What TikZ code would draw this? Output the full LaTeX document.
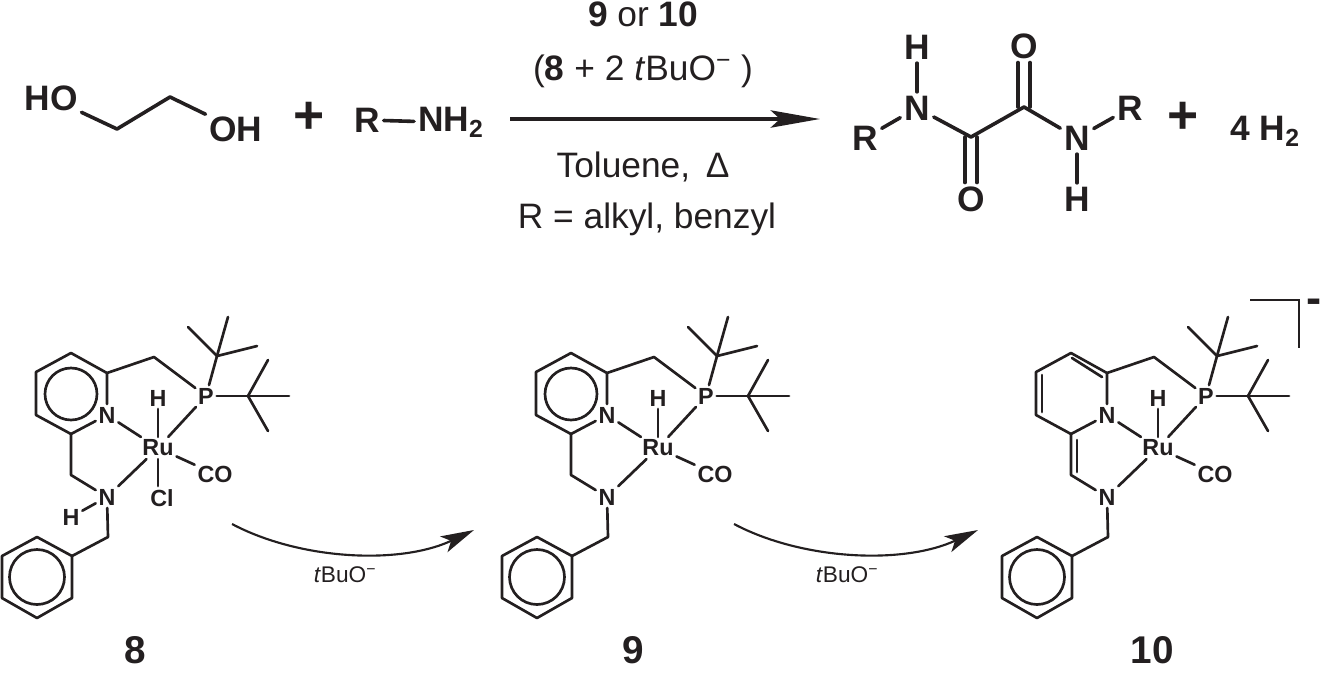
\documentclass[tikz,border=0pt]{standalone}
\usepackage{fontspec}
\setmainfont{Liberation Sans}
\usetikzlibrary{arrows.meta,calc}
\definecolor{ink}{HTML}{231F20}
\tikzset{
  x=0.75pt,y=-0.75pt,
  every node/.style={text=ink,inner sep=0pt,outer sep=0pt},
  big/.style={font=\fontsize{26.5}{28}\selectfont\bfseries,inner sep=3pt},
  small/.style={font=\fontsize{17.5}{18}\selectfont\bfseries,inner sep=2.2pt},
  cond/.style={font=\fontsize{26.5}{30}\selectfont},
  cmpd/.style={font=\fontsize{29}{30}\selectfont\bfseries},
  thick bond/.style={draw=ink,line width=2.7pt,line cap=round,line join=round},
  thin bond/.style={draw=ink,line width=2pt,line cap=round,line join=round},
  main arrow/.style={draw=ink,line width=2.6pt,-{Stealth[length=37pt,width=13pt,inset=7pt]}},
  curve arrow/.style={draw=ink,line width=1.6pt,-{Stealth[length=25pt,width=13pt,inset=6pt]}},
}
\newcommand{\cmplxcore}{%
  \coordinate (r1) at (71,353); \coordinate (r2) at (107,373);
  \coordinate (r4) at (71,434); \coordinate (r5) at (36,415); \coordinate (r6) at (36,372);
  \coordinate (ch) at (154,357); \coordinate (cb) at (71,475); \coordinate (cn) at (108,537);
  \coordinate (b1) at (37,537); \coordinate (b2) at (72,556); \coordinate (b3) at (72,598);
  \coordinate (b4) at (37,618); \coordinate (b5) at (2,598); \coordinate (b6) at (2,556);
  \coordinate (tc) at (217,356); \coordinate (ta) at (188,327); \coordinate (tb) at (228,317); \coordinate (td) at (257,346);
  \coordinate (uc) at (248,396); \coordinate (ua) at (268,360); \coordinate (ub) at (289,396); \coordinate (ud) at (268,431);
  \node[small] (N) at (107,415) {N};
  \node[small] (P) at (206,396) {P};
  \node[small] (Ru) at (158,448) {Ru};
  \node[small] (H) at (158,398) {H};
  \node[small] (CO) at (215,474) {CO};
  \node[small] (M) at (107,497) {N};
  \draw[thin bond] (N) -- (r2) -- (r1) -- (r6) -- (r5) -- (r4) -- (N);
  \draw[thin bond] (r2) -- (ch) -- (P);
  \draw[thin bond] (P) -- (Ru);
  \draw[thin bond] (N) -- (Ru);
  \draw[thin bond] (H) -- (Ru);
  \draw[thin bond] (Ru) -- (CO);
  \draw[thin bond] (Ru) -- (M);
  \draw[thin bond] (r4) -- (cb) -- (M);
  \draw[thin bond] (M) -- (cn) -- (b2);
  \draw[thin bond] (b1) -- (b2) -- (b3) -- (b4) -- (b5) -- (b6) -- cycle;
  \draw[thin bond] (37,577) circle (27.5);
  \draw[thin bond] (P) -- (tc);
  \draw[thin bond] (tc) -- (ta);
  \draw[thin bond] (tc) -- (tb);
  \draw[thin bond] (tc) -- (td);
  \draw[thin bond] (P) -- (uc);
  \draw[thin bond] (uc) -- (ua);
  \draw[thin bond] (uc) -- (ub);
  \draw[thin bond] (uc) -- (ud);
}
\begin{document}
\begin{tikzpicture}
\useasboundingbox (0,0) rectangle (1323,679);
% diol
\node[big] (HO) at (51,98) {HO};
\node[big] (OH) at (236,129) {OH};
\coordinate (e1) at (117,129);
\coordinate (e2) at (170,97);
\draw[thick bond] (HO) -- (e1) -- (e2) -- (OH);
\node[font=\fontsize{40}{40}\selectfont\bfseries] (plus1) at (309,118) {+};
% amine
\node[big] (Ra) at (367,120) {R};
\node[big,anchor=west] (NH) at (414,122.5) {NH\textsubscript{2}};
\draw[thick bond] (Ra) -- (NH);
% conditions
\coordinate (arrL) at (510,119);
\coordinate (arrR) at (820,119);
\draw[main arrow] (arrL) -- (arrR);
\node[cond] (c1) at (643,14) {\textbf{9} or \textbf{10}};
\node[cond] (c2) at (643,71) {(\textbf{8} + 2 \textit{t}BuO\textsuperscript{−} )};
\node[cond] (c3) at (643,167) {Toluene,\, Δ};
\node[cond] (c4) at (647,219) {R = alkyl, benzyl};
% product
\node[big] (pH) at (917,47) {H};
\node[big] (pN) at (917,108) {N};
\node[big] (pR) at (865,138) {R};
\coordinate (C1) at (971,137);
\coordinate (C2) at (1024,107);
\node[big] (O1) at (971,199) {O};
\node[big] (O2) at (1024,46) {O};
\node[big] (qN) at (1077,138) {N};
\node[big] (qH) at (1077,199) {H};
\node[big] (qR) at (1130,108) {R};
\draw[thick bond] (pH) -- (pN);
\draw[thick bond] (pR) -- (pN);
\draw[thick bond] (pN) -- (C1) -- (C2) -- (qN);
\draw[thick bond] (qN) -- (qH);
\draw[thick bond] (qN) -- (qR);
\draw[thick bond] ([xshift=-4.5pt]C1) -- ([xshift=-4.5pt]O1.north);
\draw[thick bond] ([xshift=4.5pt]C1) -- ([xshift=4.5pt]O1.north);
\draw[thick bond] ([xshift=-4.5pt]C2) -- ([xshift=-4.5pt]O2.south);
\draw[thick bond] ([xshift=4.5pt]C2) -- ([xshift=4.5pt]O2.south);
\node[font=\fontsize{40}{40}\selectfont\bfseries] (plus2) at (1183,118) {+};
\node[big] (h2) at (1265,131) {4 H\textsubscript{2}};
% complex 8
\begin{scope}[name prefix=a-]
  \cmplxcore
  \node[small] (Cl) at (162,498) {Cl};
  \node[small] (HN) at (71,517) {H};
  \coordinate (RuS) at (158,486);
  \draw[thin bond] (Ru) -- (RuS);
  \draw[thin bond] (M) -- (HN);
  \draw[thin bond] (71,394) circle (26);
\end{scope}
% complex 9
\begin{scope}[shift={(500,0)},name prefix=b-]
  \cmplxcore
  \draw[thin bond] (71,394) circle (26);
\end{scope}
% complex 10
\begin{scope}[shift={(1000,0)},name prefix=c-]
  \cmplxcore
  \coordinate (d1) at (72,358); \coordinate (d2) at (102,377);
  \coordinate (d3) at (42,375); \coordinate (d4) at (42,412);
  \coordinate (d5) at (77,440); \coordinate (d6) at (77,472);
  \draw[thin bond] (d1) -- (d2);
  \draw[thin bond] (d3) -- (d4);
  \draw[thin bond] (d5) -- (d6);
\end{scope}
% charge bracket
\coordinate (br1) at (1250,300);
\coordinate (br2) at (1299,300);
\coordinate (br3) at (1299,348);
\draw[thin bond,line cap=butt,line join=miter] (br1) -- (br2) -- (br3);
\node[font=\fontsize{34}{34}\selectfont\bfseries] (chg) at (1314,306) {-};
% conversion arrows
\coordinate (a1) at (232,524);
\coordinate (a2) at (474,530);
\coordinate (a3) at (734,524);
\coordinate (a4) at (978,530);
\draw[curve arrow] (a1) .. controls (300,560) and (400,565) .. (a2);
\draw[curve arrow] (a3) .. controls (802,560) and (903,565) .. (a4);
\node[font=\fontsize{17}{20}\selectfont] (t1) at (345,575) {\textit{t}BuO\textsuperscript{−}};
\node[font=\fontsize{17}{20}\selectfont] (t2) at (847,575) {\textit{t}BuO\textsuperscript{−}};
\node[cmpd] (n8) at (135,650) {8};
\node[cmpd] (n9) at (633,650) {9};
\node[cmpd] (n10) at (1152,650) {10};
\end{tikzpicture}
\end{document}
